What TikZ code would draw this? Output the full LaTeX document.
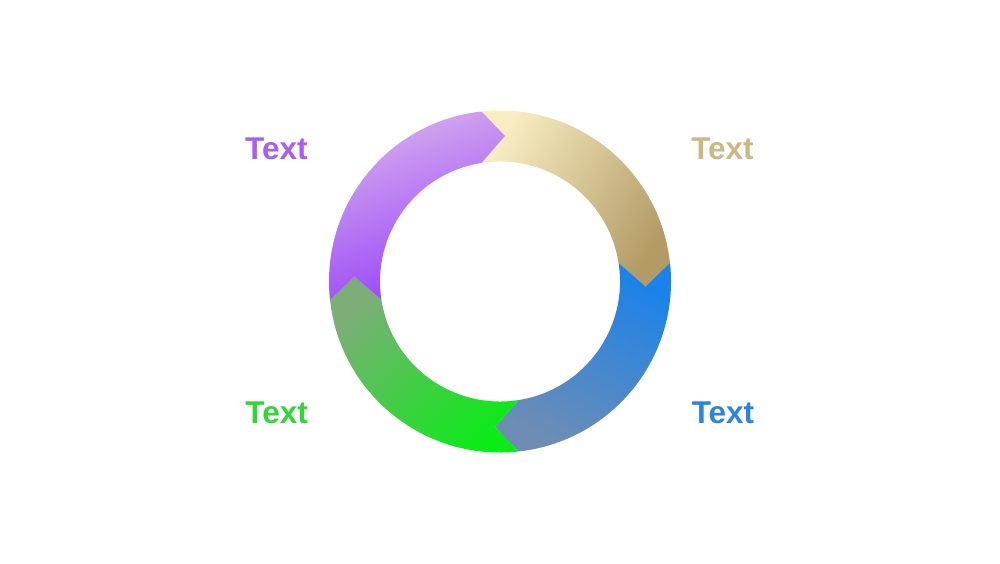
\documentclass[tikz,border=0pt]{standalone}
\usepackage{fontspec}
\setmainfont{Liberation Sans}
\usepackage{xcolor}

\definecolor{tanlight}{HTML}{F8EDC2}
\definecolor{tandark}{HTML}{B39B66}
\definecolor{purplelight}{HTML}{D6AEEE}
\definecolor{purpledark}{HTML}{9842F8}
\definecolor{greengrey}{HTML}{7DAE78}
\definecolor{greenvivid}{HTML}{0CEA18}
\definecolor{bluevivid}{HTML}{1A82EA}
\definecolor{bluegrey}{HTML}{6E8DB4}

% one arrow piece of the ring, tail at angle #1, head 90 degrees further clockwise
\newcommand{\ringpath}[1]{(#1+6.21:171) arc[start angle=#1+6.21, end angle=#1-83.79, radius=171]
  -- (#1-91.97:145.6) -- (#1-81.13:120) arc[start angle=#1-81.13, end angle=#1+8.87, radius=120]
  -- (#1-1.97:145.6) -- cycle}

\begin{document}
\begin{tikzpicture}[x=1pt,y=1pt,
    lbl/.style={font=\bfseries\fontsize{31.5}{37}\selectfont, anchor=base, inner sep=0pt}]
            \useasboundingbox (0,0) rectangle (1000,563);
            \begin{scope}[shift={(500,281.5)}]
            \shade[top color=tanlight, bottom color=tandark, shading angle=60] \ringpath{90};
            \shade[top color=bluevivid, bottom color=bluegrey, shading angle=-25] \ringpath{0};
            \shade[top color=greengrey, bottom color=greenvivid, shading angle=45] \ringpath{-90};
            \shade[top color=purplelight, bottom color=purpledark, shading angle=20] \ringpath{180};
            \end{scope}
            \node (tpurple) at (276.3,403) [lbl, text=purpledark!75!purplelight] {Text};
            \node (ttan) at (722.5,403) [lbl, text=tandark!65!tanlight] {Text};
            \node (tgreen) at (276.7,139.7) [lbl, text=greenvivid!70!greengrey] {Text};
            \node (tblue) at (723,139.7) [lbl, text=bluevivid!80!bluegrey] {Text};
        \end{tikzpicture}
\end{document}
